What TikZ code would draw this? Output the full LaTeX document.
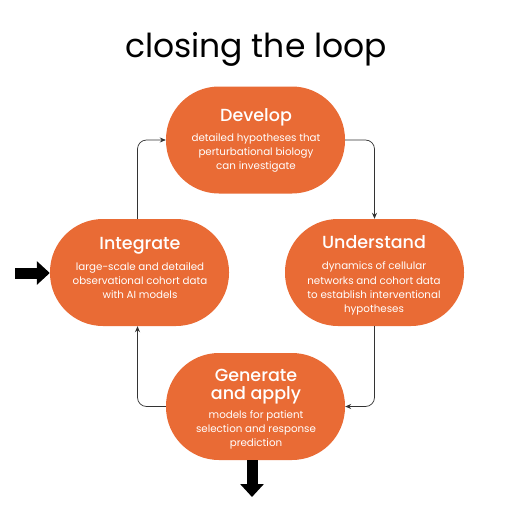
\documentclass[tikz,border=0pt]{standalone}
\usepackage{fontspec}
\setmainfont{Poppins}
\newfontfamily\medfont{Poppins Medium}
\usetikzlibrary{arrows.meta}
\definecolor{orng}{HTML}{E96B35}
\definecolor{conn}{HTML}{333333}
\tikzset{
  stadium/.style={fill=orng, draw=none, minimum width=179pt, minimum height=107pt,
    rounded corners=53pt, inner sep=0pt},
  ttl/.style={text=white, anchor=base, inner sep=0pt, font=\medfont\fontsize{17.5}{18}\selectfont},
  body/.style={text=white, anchor=base, inner sep=0pt, align=center, font=\fontsize{10.3}{14.2}\selectfont},
  link/.style={draw=conn, line width=0.7pt, rounded corners=9pt, -{Stealth[length=6pt,width=5pt]}},
  bigarrow/.style={draw=black, line width=11pt, -{Triangle[length=13pt,width=23pt]}}
}
\begin{document}
\begin{tikzpicture}[x=1pt,y=-1pt]
\useasboundingbox[fill=white] (0,0) rectangle (519,519);
\node[font=\fontsize{33}{35}\selectfont, anchor=base] (title) at (256,57) {closing the loop};
\node[stadium] (dev) at (255.5,140) {};
\node[stadium] (int) at (139.5,272.5) {};
\node[stadium] (und) at (374.5,272.5) {};
\node[stadium] (gen) at (255.5,406.5) {};
\node[ttl] (devT) at (256,121) {Develop};
\node[body] (devB) at (256,169.5) {detailed hypotheses that\\perturbational biology\\can investigate};
\node[ttl] (intT) at (140,249) {Integrate};
\node[body] (intB) at (140,298.5) {large-scale and detailed\\observational cohort data\\with AI models};
\node[ttl] (undT) at (374,248) {Understand};
\node[body] (undB) at (374,312.5) {dynamics of cellular\\networks and cohort data\\to establish interventional\\hypotheses};
\node[ttl] (genT1) at (256,381) {Generate};
\node[ttl] (genT2) at (256,399) {and apply};
\node[body] (genB) at (256,446.5) {models for patient\\selection and response\\prediction};
\draw[link] (dev.east) -| (und.north);
\draw[link] (und.south) |- (gen.east);
\draw[link] (gen.west) -| ([xshift=-2pt]int.south);
\draw[link] ([xshift=-2pt]int.north) |- (dev.west);
\coordinate (inL) at (15,273);
\coordinate (outB) at (252,497);
\draw[bigarrow] (inL) -- (int.west |- inL);
\draw[bigarrow] (outB |- gen.south) -- (outB);
\end{tikzpicture}
\end{document}
